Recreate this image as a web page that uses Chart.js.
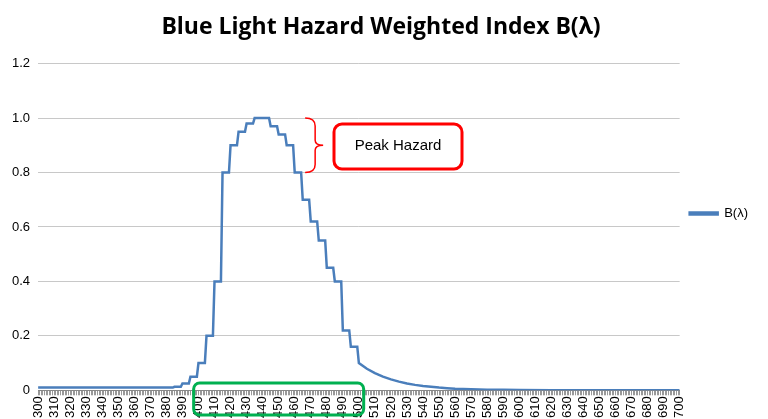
<!DOCTYPE html>
<html>
<head>
<script src="https://cdn.jsdelivr.net/npm/chart.js@4"></script>
<style>
body { margin: 0; background: #fff; }
</style>
</head>
<body>
<canvas id="c" width="768" height="419"></canvas>
<script>
// step band starts (nm) and B(lambda) held over each 5 nm band
const stepStarts = [300, 380, 385, 390, 395, 400, 405, 410, 415, 420, 425, 430, 435, 440, 445, 450, 455, 460, 465, 470, 475, 480, 485, 490, 495];
const stepValues = [0.01, 0.01, 0.013, 0.025, 0.05, 0.1, 0.2, 0.4, 0.8, 0.9, 0.95, 0.98, 1.0, 1.0, 0.97, 0.94, 0.9, 0.8, 0.7, 0.62, 0.55, 0.45, 0.4, 0.22, 0.16];
// smooth tail after 500 nm
const tailWl = [500, 505, 510, 515, 520, 525, 530, 535, 540, 545, 550, 555, 560, 565, 570, 580, 590, 600, 620, 650, 700];
const tailValues = [0.1, 0.079, 0.063, 0.05, 0.04, 0.032, 0.025, 0.02, 0.016, 0.013, 0.01, 0.008, 0.006, 0.005, 0.004, 0.0025, 0.0016, 0.001, 0.0005, 0.0002, 0.0001];
const yTicks = [0, 0.2, 0.4, 0.6, 0.8, 1, 1.2];

const points = [];
stepStarts.forEach((s, i) => {
    const end = i < stepStarts.length - 1 ? stepStarts[i + 1] - 1 : 499;
    points.push({ x: s, y: stepValues[i] });
    points.push({ x: end, y: stepValues[i] });
});
tailWl.forEach((w, i) => points.push({ x: w, y: tailValues[i] }));

const overlay = {
    id: 'overlay',
    afterDraw(chart) {
        const ctx = chart.ctx;
        const x = chart.scales.x, y = chart.scales.y;
        function rr(x0, y0, w, h, r) {
            ctx.beginPath();
            ctx.moveTo(x0 + r, y0);
            ctx.arcTo(x0 + w, y0, x0 + w, y0 + h, r);
            ctx.arcTo(x0 + w, y0 + h, x0, y0 + h, r);
            ctx.arcTo(x0, y0 + h, x0, y0, r);
            ctx.arcTo(x0, y0, x0 + w, y0, r);
            ctx.closePath();
        }
        // bracket
        const bx = x.getPixelForValue(469), y1 = y.getPixelForValue(1), y2 = y.getPixelForValue(0.8);
        const ym = (y1 + y2) / 2;
        ctx.save();
        ctx.strokeStyle = '#ff0000';
        ctx.lineWidth = 1.5;
        ctx.beginPath();
        ctx.moveTo(bx - 4, y1);
        ctx.quadraticCurveTo(bx + 6, y1, bx + 6, y1 + 8);
        ctx.lineTo(bx + 6, ym - 5);
        ctx.quadraticCurveTo(bx + 6, ym, bx + 14, ym);
        ctx.moveTo(bx + 6, ym + 5);
        ctx.quadraticCurveTo(bx + 6, ym, bx + 14, ym);
        ctx.moveTo(bx + 6, ym + 5);
        ctx.lineTo(bx + 6, y2 - 8);
        ctx.quadraticCurveTo(bx + 6, y2, bx - 4, y2);
        ctx.stroke();
        // callout box
        ctx.lineWidth = 3;
        rr(334, 124, 128, 45, 8);
        ctx.fillStyle = '#fff';
        ctx.fill();
        ctx.stroke();
        ctx.fillStyle = '#000';
        ctx.font = '15px "Liberation Sans", Arial, sans-serif';
        ctx.textAlign = 'center';
        ctx.textBaseline = 'middle';
        ctx.fillText('Peak Hazard', 398, 146);
        // green box around 400-500 labels
        ctx.strokeStyle = '#00b050';
        ctx.lineWidth = 3;
        rr(x.getPixelForValue(397), 383, x.getPixelForValue(503) - x.getPixelForValue(397), 32, 6);
        ctx.stroke();
        ctx.restore();
    }
};

new Chart(document.getElementById('c'), {
    type: 'line',
    data: {
        datasets: [{
            label: 'B(λ)',
            data: points,
            borderColor: '#4a7ebb',
            backgroundColor: '#4a7ebb',
            borderWidth: 2.5,
            pointRadius: 0,
            tension: 0
        }]
    },
    options: {
        responsive: false,
        animation: false,
        devicePixelRatio: 1,
        layout: { padding: { left: 4, right: 10, top: 8, bottom: 0 } },
        plugins: {
            title: {
                display: true,
                text: 'Blue Light Hazard Weighted Index B(λ)',
                color: '#000',
                font: { family: 'Open Sans', size: 23, weight: 'bold' },
                padding: { top: 6, bottom: 22 }
            },
            legend: {
                position: 'right',
                labels: {
                    color: '#000',
                    font: { family: 'Liberation Sans', size: 13 },
                    boxWidth: 28, boxHeight: 2
                }
            },
            tooltip: { enabled: false }
        },
        scales: {
            x: {
                type: 'linear',
                min: 300, max: 700,
                afterBuildTicks(axis) {
                    const t = [];
                    for (let v = 300; v <= 700; v++) t.push({ value: v });
                    axis.ticks = t;
                },
                ticks: {
                    autoSkip: false,
                    maxRotation: 90, minRotation: 90,
                    color: '#000',
                    font: { family: 'Liberation Sans', size: 13 },
                    padding: 1,
                    callback: v => (v % 10 === 0 ? String(v) : '')
                },
                grid: { drawOnChartArea: false, color: '#999', tickLength: 5 },
                border: { color: '#888' }
            },
            y: {
                min: 0, max: 1.2,
                afterBuildTicks(axis) { axis.ticks = yTicks.map(v => ({ value: v })); },
                ticks: { color: '#000', font: { family: 'Liberation Sans', size: 13 }, padding: 8 },
                grid: { color: '#c8c8c8', drawTicks: false },
                border: { display: false }
            }
        }
    },
    plugins: [overlay]
});
</script>
</body>
</html>
